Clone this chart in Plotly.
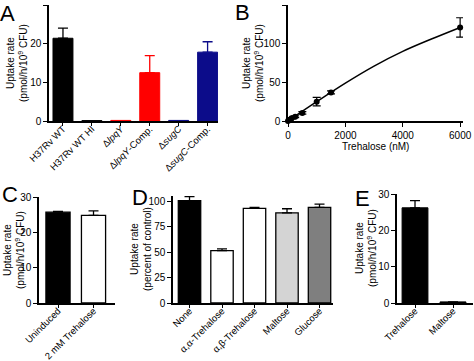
import plotly.graph_objects as go

W, H = 474, 361
FONT = "Liberation Sans, Arial, Helvetica, sans-serif"

def fx(x):
    return x / W

def fy(y):
    return 1 - y / H

# ---------------- data ----------------
# Panel A
a_categories = ["H37Rv WT", "H37Rv WT HI", "ΔlpqY", "ΔlpqY-Comp.", "ΔsugC", "ΔsugC-Comp."]
a_ticktext = ["H37Rv WT", "H37Rv WT HI", "Δ<i>lpqY</i>", "Δ<i>lpqY</i>-Comp.", "Δ<i>sugC</i>", "Δ<i>sugC</i>-Comp."]
a_values = [21.4, 0.1, 0.15, 12.5, 0.15, 17.8]
a_errors = [2.6, 0.0, 0.0, 4.4, 0.0, 2.7]
a_colors = ["#000000", "#000000", "#ff0000", "#ff0000", "#0c0c8a", "#0c0c8a"]

# Panel B
b_conc = [0, 62.5, 125, 250, 500, 1000, 1500, 6000]
b_rate = [0, 1.5, 3.5, 5.5, 10.5, 25, 37, 121]
b_err = [0.3, 0.5, 0.8, 1.2, 1.5, 5.5, 2.0, 12.5]
b_fit_x = [0, 1000, 2000, 3000, 4000, 5000, 6000]
b_fit_y = [0, 25, 49, 71, 90, 106, 121]
b_xticks = [0, 2000, 4000, 6000]

# Panel C
c_categories = ["Uninduced", "2 mM Trehalose"]
c_values = [25.7, 24.8]
c_errors = [0.2, 1.3]
c_colors = ["#000000", "#ffffff"]

# Panel D
d_categories = ["None", "α,α-Trehalose", "α,β-Trehalose", "Maltose", "Glucose"]
d_values = [100.4, 51.4, 92.8, 88.5, 93.8]
d_errors = [4.0, 1.8, 1.0, 4.0, 3.2]
d_colors = ["#000000", "#ffffff", "#ffffff", "#d4d4d4", "#7f7f7f"]
d_patterns = ["", "", "\\", "", ""]

# Panel E
e_categories = ["Trehalose", "Maltose"]
e_values = [26.2, 0.3]
e_errors = [2.0, 0.0]

fig = go.Figure()

def err(arr, color, width=5):
    return dict(type="data", symmetric=False, array=arr, arrayminus=[0] * len(arr),
                color=color, thickness=1.3, width=width)

# Panel A bars
for cat, val, e, col in zip(a_categories, a_values, a_errors, a_colors):
    fig.add_trace(go.Bar(
        x=[cat], y=[val], xaxis="x", yaxis="y", width=0.69,
        marker=dict(color=col, line=dict(color=col, width=1)),
        error_y=err([e], col) if e > 0 else None,
        showlegend=False,
    ))

# Panel B
fig.add_trace(go.Scatter(
    x=b_fit_x, y=b_fit_y, xaxis="x2", yaxis="y2", mode="lines",
    line=dict(color="black", width=1.5, shape="spline"), showlegend=False,
    cliponaxis=False,
))
fig.add_trace(go.Scatter(
    x=b_conc, y=b_rate, xaxis="x2", yaxis="y2", mode="markers",
    marker=dict(color="black", size=6),
    error_y=dict(type="data", array=b_err, color="black", thickness=1.2, width=4),
    showlegend=False, cliponaxis=False,
))

# Panel C
fig.add_trace(go.Bar(
    x=c_categories, y=c_values, xaxis="x3", yaxis="y3", width=0.68,
    marker=dict(color=c_colors, line=dict(color="black", width=1.3)),
    error_y=err(c_errors, "black", 5), showlegend=False,
))

# Panel D
fig.add_trace(go.Bar(
    x=d_categories, y=d_values, xaxis="x4", yaxis="y4", width=0.69,
    marker=dict(color=d_colors, line=dict(color="black", width=1.3),
                pattern=dict(shape=d_patterns, fgcolor="black", bgcolor="white",
                             size=5, solidity=0.45, fillmode="replace")),
    error_y=err(d_errors, "black", 5), showlegend=False,
))

# Panel E
fig.add_trace(go.Bar(
    x=e_categories, y=e_values, xaxis="x5", yaxis="y5", width=0.68,
    marker=dict(color="black", line=dict(color="black", width=1)),
    error_y=dict(type="data", symmetric=False, array=[e if e > 0 else None for e in e_errors],
                 arrayminus=[0] * len(e_errors), color="black", thickness=1.3, width=5),
    showlegend=False,
))

axis_common = dict(showline=True, linecolor="black", linewidth=1.5, ticks="outside",
                   ticklen=4, tickwidth=1.2, tickcolor="black", showgrid=False,
                   zeroline=False, automargin=False,
                   tickfont=dict(family=FONT, size=10, color="black"))

def cat_x(domain, rng, cats, texts, anchor):
    return dict(axis_common, domain=domain, range=rng, type="category",
                tickmode="array", tickvals=cats, ticktext=texts, tickangle=-45,
                ticklen=3, ticklabelstandoff=-6,
                tickfont=dict(family=FONT, size=9.5, color="black"),
                anchor=anchor)

def lin_y(domain, rng, dtick, anchor):
    return dict(axis_common, domain=domain, range=rng, dtick=dtick, tick0=0,
                anchor=anchor)

fig.update_layout(
    width=W, height=H, margin=dict(l=0, r=0, t=0, b=0, pad=0, autoexpand=False),
    paper_bgcolor="white", plot_bgcolor="white",
    font=dict(family=FONT, size=10, color="black"),
    barmode="overlay", showlegend=False,
    xaxis=cat_x([fx(49), fx(218)], [-0.483, 5.36], a_categories, a_ticktext, "y"),
    yaxis=lin_y([fy(121), fy(5)], [0, 30], 10, "x"),
    xaxis2=dict(axis_common, domain=[fx(288), fx(463)], range=[0, 6100],
                tickmode="array", tickvals=b_xticks, anchor="y2"),
    yaxis2=lin_y([fy(121), fy(5)], [0, 150], 50, "x2"),
    xaxis3=cat_x([fx(39), fx(115)], [-0.535, 1.605], c_categories, c_categories, "y3"),
    yaxis3=lin_y([fy(303), fy(197)], [0, 30], 10, "x3"),
    xaxis4=cat_x([fx(173), fx(333)], [-0.508, 4.415], d_categories, d_categories, "y4"),
    yaxis4=lin_y([fy(303), fy(195.5)], [0, 105.5], 25, "x4"),
    xaxis5=cat_x([fx(397), fx(473)], [-0.474, 1.526], e_categories, e_categories, "y5"),
    yaxis5=lin_y([fy(303), fy(194)], [0, 30], 10, "x5"),
)

ytitle_pmol = "Uptake rate<br>(pmol/h/10<sup>9</sup> CFU)"
ytitle_pct = "Uptake rate<br>(percent of control)"

annotations = [
    # y titles
    (17, 63, ytitle_pmol, -90, 10),
    (253, 63, ytitle_pmol, -90, 10),
    (14, 250, ytitle_pmol, -90, 10),
    (141, 249, ytitle_pct, -90, 10),
    (366, 248, ytitle_pmol, -90, 10),
    # x title B
    (375, 146, "Trehalose (nM)", 0, 10),
    # panel letters
    (8, 14, "A", 0, 22),
    (243, 13, "B", 0, 22),
    (10, 194, "C", 0, 22),
    (140, 197, "D", 0, 22),
    (362, 198, "E", 0, 22),
]
for x, y, t, ang, sz in annotations:
    fig.add_annotation(x=fx(x), y=fy(y), xref="paper", yref="paper", text=t,
                       showarrow=False, textangle=ang, xanchor="center", yanchor="middle",
                       font=dict(family=FONT, size=sz, color="black"))

fig.write_html(
    "out.html",
    config={"responsive": False, "displayModeBar": False},
    post_script="document.body.style.margin='0px';document.body.style.overflow='hidden';",
)
